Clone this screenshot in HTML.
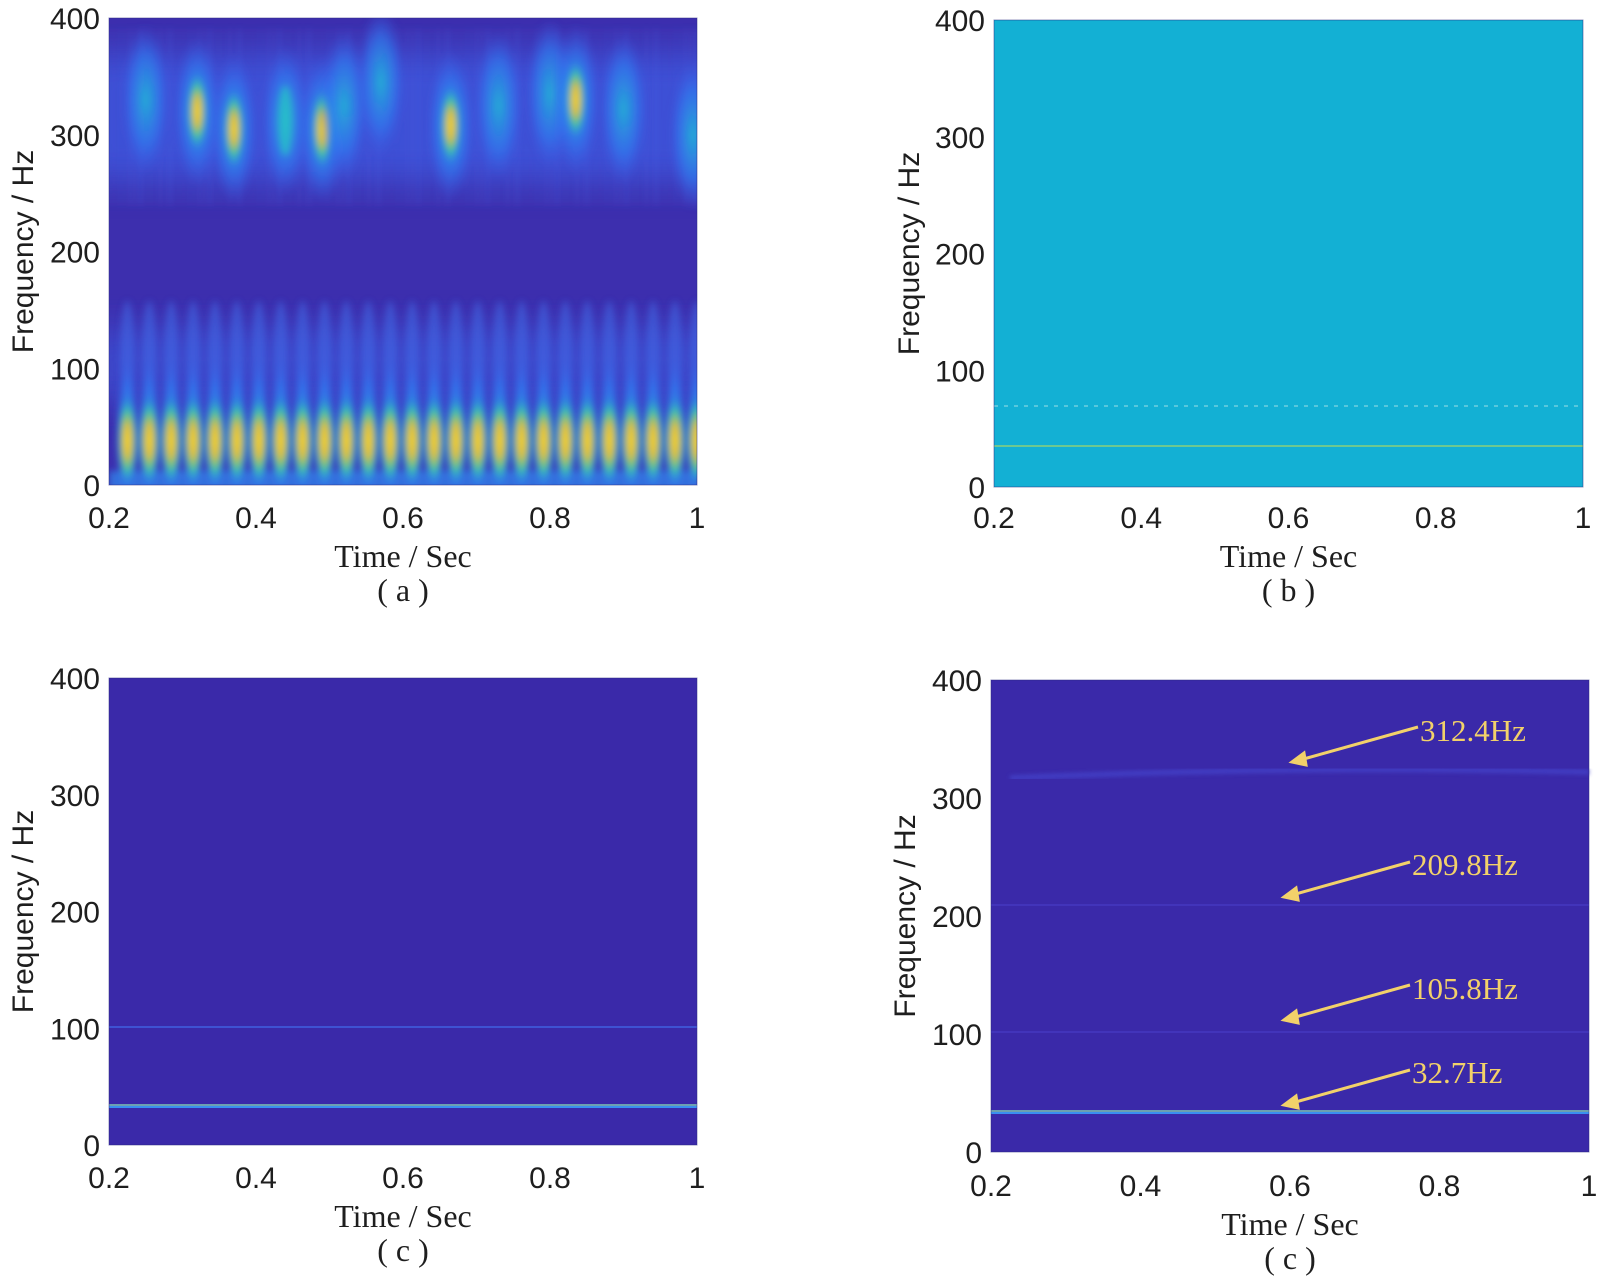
<!DOCTYPE html>
<html><head><meta charset="utf-8"><style>
html,body{margin:0;padding:0;background:#fff;}
svg{display:block;}
.t{font-family:"Liberation Sans",sans-serif;font-size:30px;fill:#1e1e1e;}
.s{font-family:"Liberation Serif",serif;font-size:32px;fill:#1e1e1e;}
.y{font-family:"Liberation Sans",sans-serif;font-size:30px;fill:#1e1e1e;}
.an{font-family:"Liberation Serif",serif;font-size:31px;fill:#f2d16a;}
</style></head><body>
<svg id="S" width="1600" height="1282" xmlns="http://www.w3.org/2000/svg">
<defs>
<filter id="b4" x="-50%" y="-50%" width="200%" height="200%"><feGaussianBlur stdDeviation="3.5"/></filter>
<filter id="b8" x="-50%" y="-50%" width="200%" height="200%"><feGaussianBlur stdDeviation="16"/></filter>
<filter id="b2"><feGaussianBlur stdDeviation="2"/></filter>
<clipPath id="ca"><rect x="109" y="18" width="588" height="467"/></clipPath>
<radialGradient id="gy"><stop offset="0" stop-color="#f9d52a"/><stop offset="0.35" stop-color="#e6bd2e"/><stop offset="0.65" stop-color="#3ec4a8"/><stop offset="1" stop-color="#2a8ff0" stop-opacity="0"/></radialGradient>
<radialGradient id="gc"><stop offset="0" stop-color="#22b8d4"/><stop offset="0.6" stop-color="#2f7ef2" stop-opacity="0.7"/><stop offset="1" stop-color="#3a5ee8" stop-opacity="0"/></radialGradient>
</defs>
<g clip-path="url(#ca)">
<rect x="109" y="18" width="588" height="467" fill="#3d2fae"/>
<g id="aw"></g>
</g>
<rect x="994" y="20" width="589" height="467" fill="#13b0d4"/>
<line x1="994" y1="446" x2="1583" y2="446" stroke="#8cd07a" stroke-width="1.5"/>
<line x1="994" y1="406" x2="1583" y2="406" stroke="#6fd0e0" stroke-width="1.5" stroke-dasharray="4 6"/>
<rect x="109" y="678" width="588" height="467" fill="#3a29a9"/>
<line x1="109" y1="1106" x2="697" y2="1106" stroke="#3a8ff0" stroke-width="4"/>
<line x1="109" y1="1105" x2="697" y2="1105" stroke="#9fb070" stroke-width="1"/>
<line x1="109" y1="1027" x2="697" y2="1027" stroke="#4060e0" stroke-width="1.5"/>
<rect x="991" y="680" width="598" height="472" fill="#3a29a9"/>
<line x1="991" y1="1112" x2="1589" y2="1112" stroke="#3a8ff0" stroke-width="4"/>
<line x1="991" y1="1111" x2="1589" y2="1111" stroke="#9fb070" stroke-width="1"/>
<line x1="991" y1="1032" x2="1589" y2="1032" stroke="#4438c0" stroke-width="1.5"/>
<line x1="991" y1="905" x2="1589" y2="905" stroke="#4438c0" stroke-width="1.5"/>
<path d="M1010 778 Q1300 765 1589 772" stroke="#4444cc" stroke-width="5" fill="none" filter="url(#b2)" opacity="0.8"/>
<g stroke="#f2d16a" stroke-width="3" fill="#f2d16a">
<line x1="1418" y1="727" x2="1300" y2="760"/><polygon points="1292,762 1304,753 1306,765"/>
<line x1="1410" y1="862" x2="1292" y2="895"/><polygon points="1284,897 1296,888 1298,900"/>
<line x1="1410" y1="985" x2="1292" y2="1018"/><polygon points="1284,1020 1296,1011 1298,1023"/>
<line x1="1410" y1="1070" x2="1292" y2="1103"/><polygon points="1284,1105 1296,1096 1298,1108"/>
</g>
<text class="an" x="1420" y="741">312.4Hz</text>
<text class="an" x="1412" y="875">209.8Hz</text>
<text class="an" x="1412" y="999">105.8Hz</text>
<text class="an" x="1412" y="1083">32.7Hz</text>
<g id="ax"></g>
</svg>
<script>
var NS="http://www.w3.org/2000/svg";
function el(p,t,a,txt){var e=document.createElementNS(NS,t);for(var k in a)e.setAttribute(k,a[k]);if(txt!==undefined)e.textContent=txt;p.appendChild(e);return e;}
var aw=document.getElementById('aw');
function X(t){return 109+(t-0.2)/0.8*588;}
function Y(f){return 485-f*467/400;}
var g1=el(aw,'g',{filter:'url(#b8)'});
el(g1,'rect',{x:80,y:Y(370),width:640,height:Y(260)-Y(370),fill:'#3f58e0',opacity:0.75});
el(g1,'rect',{x:80,y:Y(135),width:640,height:Y(70)-Y(135),fill:'#3e55dc',opacity:0.6});
var up=[[0.25,330,0.5],[0.32,320,1],[0.37,305,0.9],[0.44,312,0.7],[0.49,305,0.9],[0.52,325,0.5],[0.57,345,0.4],[0.665,308,1],[0.73,325,0.4],[0.8,335,0.5],[0.835,330,0.9],[0.9,322,0.5],[0.995,300,0.5]];
var g2=el(aw,'g',{filter:'url(#b4)'});
for(var k=0;k<60;k++){var tx=0.2+k*0.0135;el(g2,'rect',{x:X(tx),y:Y(390),width:3,height:Y(240)-Y(390),fill:'#4a6cf0',opacity:(0.15+0.3*((k*37)%7)/7)});}
up.forEach(function(u){el(g2,'ellipse',{cx:X(u[0]),cy:Y(u[1]),rx:24,ry:75,fill:'url(#gc)',opacity:0.9});
 if(u[2]>0.8)el(g2,'ellipse',{cx:X(u[0]),cy:Y(u[1]),rx:10,ry:40,fill:'url(#gy)'});
 else if(u[2]>0.6)el(g2,'ellipse',{cx:X(u[0]),cy:Y(u[1]),rx:7,ry:35,fill:'#27c0c8',opacity:0.8});});
el(g2,'rect',{x:109,y:Y(12),width:588,height:20,fill:'#2f8cf0',opacity:0.7});
for(var i=0;i<27;i++){var t=0.225+i*0.0298;
 el(g2,'ellipse',{cx:X(t),cy:Y(115),rx:7,ry:50,fill:'#4070ee',opacity:0.5});
 el(g2,'ellipse',{cx:X(t),cy:Y(45),rx:12,ry:75,fill:'url(#gc)'});
 el(g2,'ellipse',{cx:X(t),cy:Y(38),rx:11,ry:46,fill:'url(#gy)'});}
var ax=document.getElementById('ax');
function axes(x0,y0,w,h,lab,xt,xl,yl){
 el(ax,'rect',{x:x0,y:y0,width:w,height:h,fill:'none',stroke:'#2a2a80',"stroke-width":1,opacity:0.5});
 for(var i=0;i<5;i++){var x=x0+i*w/4;el(ax,'text',{"class":'t',x:x,y:xt,"text-anchor":'middle'},['0.2','0.4','0.6','0.8','1'][i]);
  var y=y0+h-i*h/4;el(ax,'text',{"class":'t',x:x0-9,y:y+11,"text-anchor":'end'},String(i*100));}
 el(ax,'text',{"class":'s',x:x0+w/2,y:xl,"text-anchor":'middle'},'Time / Sec');
 el(ax,'text',{"class":'s',x:x0+w/2,y:xl+34,"text-anchor":'middle'},'( '+lab+' )');
 var cy=y0+h/2;el(ax,'text',{"class":'y',x:0,y:0,"text-anchor":'middle',transform:'translate('+yl+','+cy+') rotate(-90)'},'Frequency / Hz');}
axes(109,18,588,467,'a',528,567,33);
axes(994,20,589,467,'b',528,567,919);
axes(109,678,588,467,'c',1188,1227,33);
axes(991,680,598,472,'c',1196,1235,915);
</script>
</body></html>
